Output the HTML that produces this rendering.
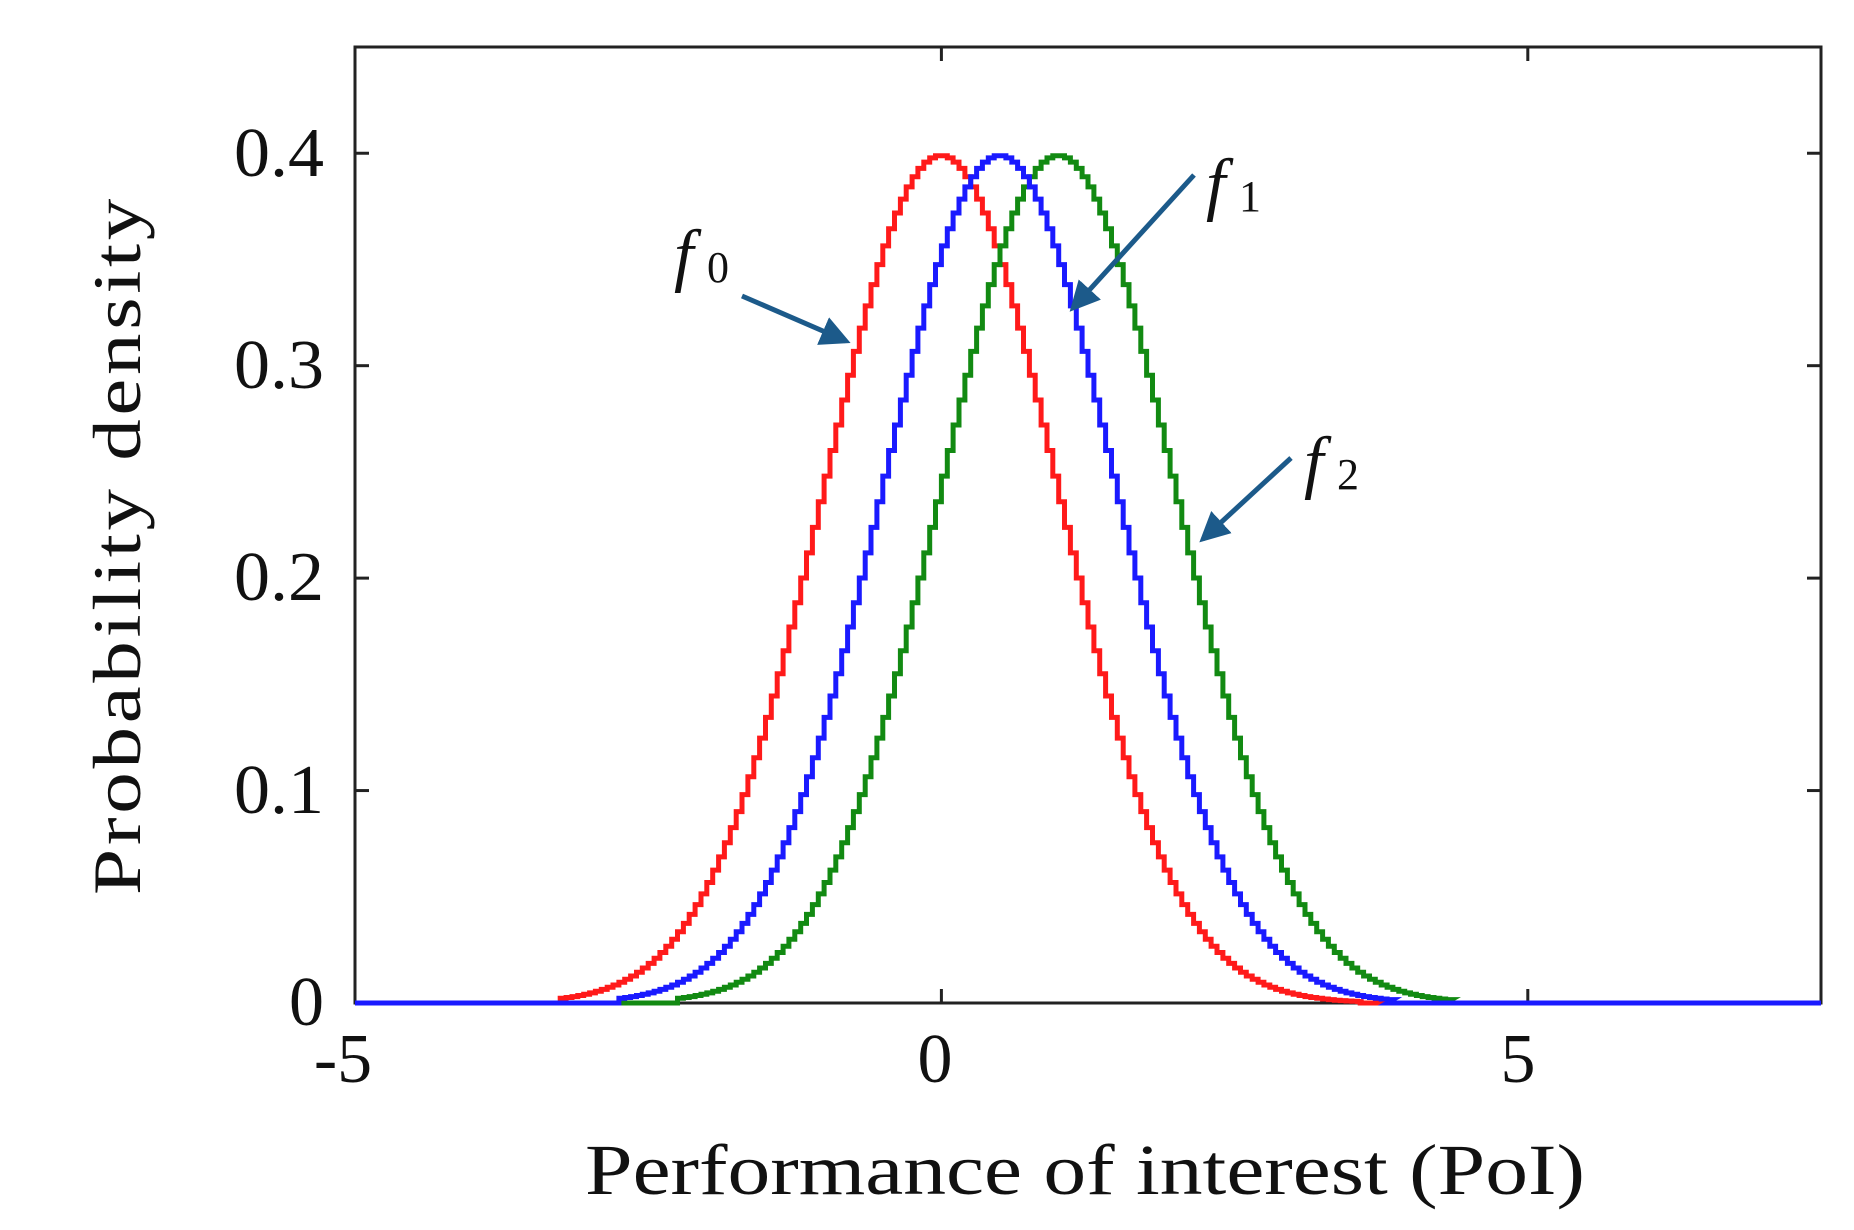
<!DOCTYPE html>
<html><head><meta charset="utf-8"><style>
html,body{margin:0;padding:0;background:#fff}
svg{display:block}
text{font-family:"Liberation Serif",serif;fill:#111}
</style></head><body>
<svg id="s" width="1854" height="1230" viewBox="0 0 1854 1230" xmlns="http://www.w3.org/2000/svg">
<defs><marker id="ah" markerWidth="6" markerHeight="6" refX="5" refY="3" orient="auto" markerUnits="strokeWidth"><path d="M0,0 L6,3 L0,6 Z" fill="#1c5a8a"/></marker></defs>
<rect x="355" y="47" width="1466" height="956" fill="none" stroke="#222" stroke-width="3"/>
<g id="ticks" stroke="#222" stroke-width="3"></g>
<g id="curves" fill="none" stroke-width="5" stroke-linejoin="miter"></g>
<g font-size="70" text-anchor="end">
<text x="324" y="176" textLength="90" lengthAdjust="spacingAndGlyphs">0.4</text><text x="324" y="388" textLength="90" lengthAdjust="spacingAndGlyphs">0.3</text><text x="324" y="600" textLength="90" lengthAdjust="spacingAndGlyphs">0.2</text><text x="324" y="813" textLength="90" lengthAdjust="spacingAndGlyphs">0.1</text><text x="324" y="1025">0</text>
</g>
<g font-size="70" text-anchor="middle">
<text x="343" y="1082">-5</text><text x="935" y="1082">0</text><text x="1518" y="1082">5</text>
</g>
<text x="1085" y="1194" font-size="72" text-anchor="middle" textLength="1000" lengthAdjust="spacingAndGlyphs">Performance of interest (PoI)</text>
<text transform="translate(140,545) rotate(-90)" font-size="68" text-anchor="middle" textLength="700" lengthAdjust="spacingAndGlyphs" letter-spacing="3">Probability density</text>
<g font-size="70" font-style="italic"><text x="674" y="278">f</text><text x="1206" y="207">f</text><text x="1304" y="485">f</text></g>
<g font-size="44"><text x="707" y="282">0</text><text x="1239" y="211">1</text><text x="1337" y="489">2</text></g>
<g stroke="#1c5a8a" stroke-width="5" marker-end="url(#ah)">
<line x1="742" y1="296" x2="846" y2="341"/>
<line x1="1194" y1="175" x2="1073" y2="308"/>
<line x1="1291" y1="458" x2="1203" y2="539"/>
</g>
</svg>
<script>
var X=function(x){return 355+(x+5)*117.28},Y=function(y){return 1003-2124.4*y};
var t=document.getElementById('ticks'),h='';
[-5,0,5].forEach(function(v){var x=X(v);h+='<line x1="'+x+'" y1="1003" x2="'+x+'" y2="989"/><line x1="'+x+'" y1="47" x2="'+x+'" y2="61"/>';});
[0.1,0.2,0.3,0.4].forEach(function(v){var y=Y(v);h+='<line x1="355" y1="'+y+'" x2="369" y2="'+y+'"/><line x1="1821" y1="'+y+'" x2="1807" y2="'+y+'"/>';});
t.innerHTML=h;
function pdf(x,m){return Math.exp(-(x-m)*(x-m)/2)/Math.sqrt(2*Math.PI);}
var c=document.getElementById('curves'),s='';
[[0,'#ff1a1a',-3.25,3.55],[1,'#128a12',-2.25,4.3],[0.5,'#1a1aff',-2.75,3.8]].forEach(function(a){
var m=a[0],d='M'+X(-5)+','+Y(0)+' L'+X(a[2])+','+Y(0),st=0.05;
for(var x=a[2];x<a[3];x+=st){var y=pdf(x+st/2,m);d+=' L'+X(x).toFixed(1)+','+Y(y).toFixed(1)+' L'+X(x+st).toFixed(1)+','+Y(y).toFixed(1);}
d+=' L'+X(a[3])+','+Y(0)+' L'+X(7.5)+','+Y(0);
s+='<path d="'+d+'" stroke="'+a[1]+'"/>';});
c.innerHTML=s;
</script>
</body></html>
